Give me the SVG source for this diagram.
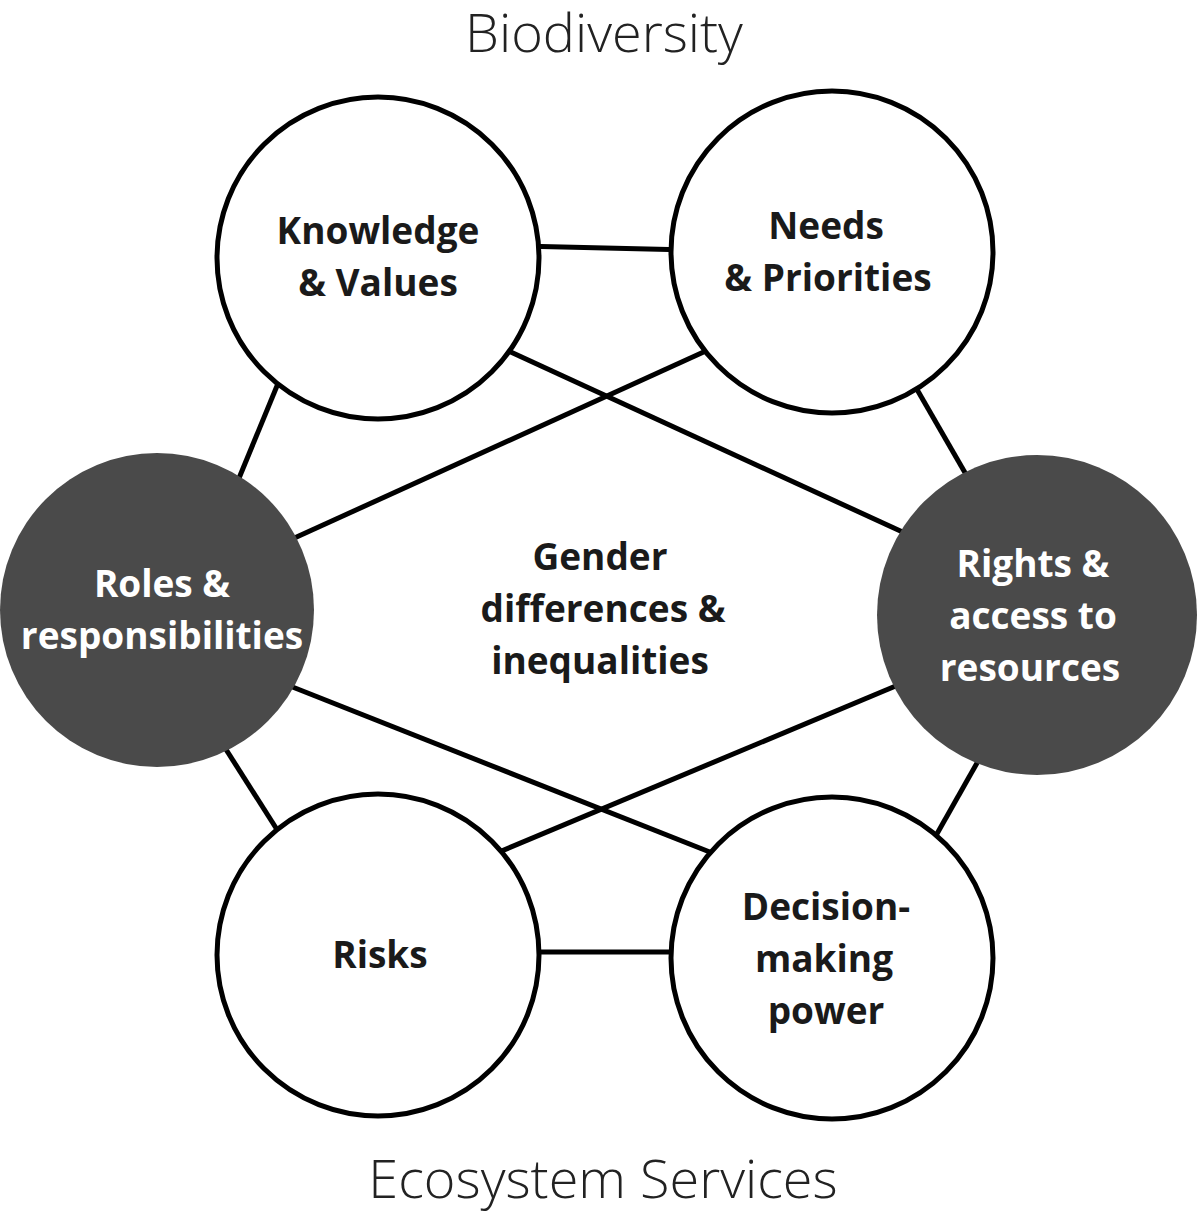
<svg xmlns="http://www.w3.org/2000/svg" width="1200" height="1215" viewBox="0 0 1200 1215">
<style>
.c{fill:#fff;stroke:#000;stroke-width:5}
.d{fill:#4a4a4a;stroke:none}
.t{font-family:"Open Sans",sans-serif;font-weight:bold;font-size:37px;text-anchor:middle;fill:#1a1a1a}
.w{fill:#fff}
.h{font-family:"Open Sans",sans-serif;font-weight:300;font-size:54px;text-anchor:middle;fill:#222}
#links line{stroke:#000;stroke-width:5}
</style>
<rect width="1200" height="1215" fill="#fff"/>
<text class="h" x="604" y="52">Biodiversity</text>
<text class="h" x="603" y="1198">Ecosystem Services</text>
<g id="links">
<line x1="520" y1="246" x2="690" y2="250"/>
<line x1="300" y1="330" x2="230" y2="500"/>
<line x1="900" y1="360" x2="975" y2="490"/>
<line x1="480" y1="338" x2="920" y2="540"/>
<line x1="730" y1="340" x2="290" y2="540"/>
<line x1="290" y1="686" x2="730" y2="860"/>
<line x1="910" y1="680" x2="480" y2="860"/>
<line x1="220" y1="740" x2="290" y2="850"/>
<line x1="990" y1="740" x2="925" y2="855"/>
<line x1="520" y1="952" x2="690" y2="952"/>
</g>
<g id="kv"><circle class="c" cx="378" cy="258" r="161"/><text class="t" x="378" y="244">Knowledge</text><text class="t" x="378" y="296">&amp; Values</text></g>
<g id="np"><circle class="c" cx="832" cy="252" r="161"/><text class="t" x="826" y="239">Needs</text><text class="t" x="828" y="291">&amp; Priorities</text></g>
<g id="roles"><circle class="d" cx="157" cy="610" r="157"/><text class="t w" x="162" y="597">Roles &amp;</text><text class="t w" x="162" y="649">responsibilities</text></g>
<g id="rights"><circle class="d" cx="1037" cy="615" r="160"/><text class="t w" x="1033" y="577">Rights &amp;</text><text class="t w" x="1033" y="629">access to</text><text class="t w" x="1030" y="681">resources</text></g>
<g id="risks"><circle class="c" cx="378" cy="955" r="161"/><text class="t" x="380" y="968">Risks</text></g>
<g id="dm"><circle class="c" cx="832" cy="958" r="161"/><text class="t" x="826" y="920">Decision-</text><text class="t" x="824" y="972">making</text><text class="t" x="826" y="1024">power</text></g>
<g id="center"><text class="t" x="600" y="570">Gender</text><text class="t" x="603" y="622">differences &amp;</text><text class="t" x="600" y="674">inequalities</text></g>
</svg>
